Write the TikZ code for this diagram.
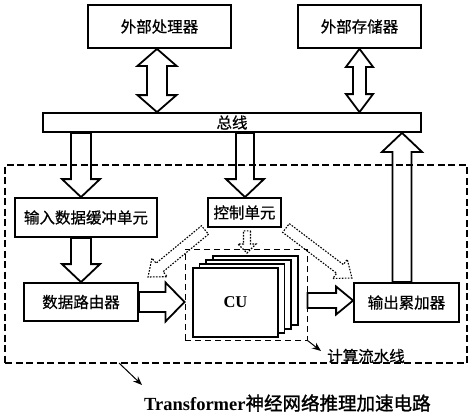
\documentclass[tikz,border=0pt]{standalone}
\usepackage{fontspec}
\setmainfont{Noto Sans CJK SC}
\newfontfamily\lserif{Liberation Serif}
\newfontfamily\cjkmed[FakeBold=0.6]{Noto Sans CJK SC}
\newfontfamily\cjkbold[FakeBold=1.5]{Noto Sans CJK SC}
\usetikzlibrary{calc,arrows.meta}
\tikzset{
  box/.style={draw, line width=1.8pt, inner sep=0pt, fill=white, font=\fontsize{15.5}{18}\selectfont\cjkmed},
  culayer/.style={draw, line width=1.5pt, fill=white, inner sep=0pt, minimum width=85, minimum height=69},
  blk/.style={draw, line width=1.8pt, line join=miter},
  dotblk/.style={draw, line width=1.1pt, dash pattern=on 1.6pt off 1.4pt},
  outerbox/.style={draw, line width=2.8pt, dash pattern=on 7pt off 3.5pt, inner sep=0pt},
  pipebox/.style={draw, line width=1pt, dash pattern=on 6pt off 4pt, inner sep=0pt},
  lblarrow/.style={line width=1pt, -{Stealth[length=9pt,width=7pt]}},
  lbl/.style={inner sep=0pt, font=\fontsize{15.5}{18}\selectfont\cjkmed}
}
% single block arrow: [style]{start}{end}{shaft half}{head half}{head length}
\newcommand\sblock[6][blk]{%
  \path[#1] let \p1=(#2), \p2=(#3), \n1={atan2(\y2-\y1,\x2-\x1)}, \n2={veclen(\x2-\x1,\y2-\y1)} in
  {[shift={(\p1)}, rotate=\n1]
   (0pt,#4pt) -- ({\n2-#6pt},#4pt) -- ({\n2-#6pt},#5pt) -- (\n2,0pt)
   -- ({\n2-#6pt},-#5pt) -- ({\n2-#6pt},-#4pt) -- (0pt,-#4pt) -- cycle};}
% double block arrow
\newcommand\dblock[6][blk]{%
  \path[#1] let \p1=(#2), \p2=(#3), \n1={atan2(\y2-\y1,\x2-\x1)}, \n2={veclen(\x2-\x1,\y2-\y1)} in
  {[shift={(\p1)}, rotate=\n1]
   (0pt,0pt) -- (#6pt,#5pt) -- (#6pt,#4pt) -- ({\n2-#6pt},#4pt) -- ({\n2-#6pt},#5pt) -- (\n2,0pt)
   -- ({\n2-#6pt},-#5pt) -- ({\n2-#6pt},-#4pt) -- (#6pt,-#4pt) -- (#6pt,-#5pt) -- cycle};}
\begin{document}
\begin{tikzpicture}[x=1pt,y=-1pt]
\useasboundingbox (0,0) rectangle (474,416);
% outer accelerator boundary
\node[outerbox, minimum width=462, minimum height=198] (accel) at (236,264) {};
% pipeline boundary
\node[pipebox, minimum width=122, minimum height=91] (pipe) at (246,294.5) {};
% CU stack
\node[culayer] (cu3) at (255.5,290.5) {};
\node[culayer] (cu2) at (248.5,294.5) {};
\node[culayer] (cu1) at (242,298.5) {};
\node[culayer, font=\fontsize{16.5}{18}\selectfont\lserif\bfseries] (cu) at (235.5,302.5) {CU};
% boxes
\node[box, minimum width=143, minimum height=43] (proc) at (159.5,26.5) {外部处理器};
\node[box, minimum width=123, minimum height=43] (mem) at (359.5,26.5) {外部存储器};
\node[box, minimum width=378, minimum height=19] (bus) at (232,122.5) {总线};
\node[box, minimum width=142, minimum height=39] (inbuf) at (86,217.5) {输入数据缓冲单元};
\node[box, minimum width=114, minimum height=38] (router) at (81,302) {数据路由器};
\node[box, minimum width=73, minimum height=29] (ctrl) at (244.5,212.5) {控制单元};
\node[box, minimum width=105, minimum height=39] (out) at (406.5,302.5) {输出累加器};
% labels
\node[lbl, anchor=west] (pipelab) at (327,356) {计算流水线};
\node[inner sep=0pt, anchor=west, font=\fontsize{18.5}{22}\selectfont] (title) at (144,403) {{\lserif\bfseries Transformer}\cjkbold 神经网络推理加速电路};
% block arrows
\dblock{$(proc.south)+(-2.5,0)$}{$(bus.north)+(-75,0)$}{10}{19.5}{17}
\dblock{mem.south}{$(bus.north)+(127.5,0)$}{6.5}{13.5}{18}
\sblock{$(bus.south)+(-151,0)$}{$(inbuf.north)+(-5,0)$}{10}{19}{18}
\sblock{$(bus.south)+(13,0)$}{$(ctrl.north)+(0.5,0)$}{9}{19}{18}
\sblock{$(inbuf.south)+(-5,0)$}{router.north}{10}{19}{18}
\sblock{router.east}{pipe.west |- router.east}{10}{19.5}{19}
\sblock{$(pipe.east)+(0,6)$}{$(out.west)+(0,-2)$}{7.5}{14}{17}
\sblock{$(out.north)+(-4.5,0)$}{$(bus.south)+(170,0)$}{9.5}{20}{19}
% dotted control arrows
\coordinate (dlS) at (205,230);
\coordinate (dlE) at (148,277);
\coordinate (drS) at (286,228);
\coordinate (drE) at (352,278);
\coordinate (dmE) at (247,253);
\sblock[dotblk]{dlS}{dlE}{5.5}{12}{15}
\sblock[dotblk]{drS}{drE}{5.5}{12}{15}
\sblock[dotblk]{$(ctrl.south)+(2.5,3)$}{dmE}{3.5}{9}{9}
% label arrows
\coordinate (pipeA) at (321,351);
\draw[lblarrow] (pipe.south east) -- (pipeA);
\coordinate (accA) at (119,363);
\coordinate (accB) at (142,385);
\draw[lblarrow] (accA) -- (accB);
\end{tikzpicture}
\end{document}
